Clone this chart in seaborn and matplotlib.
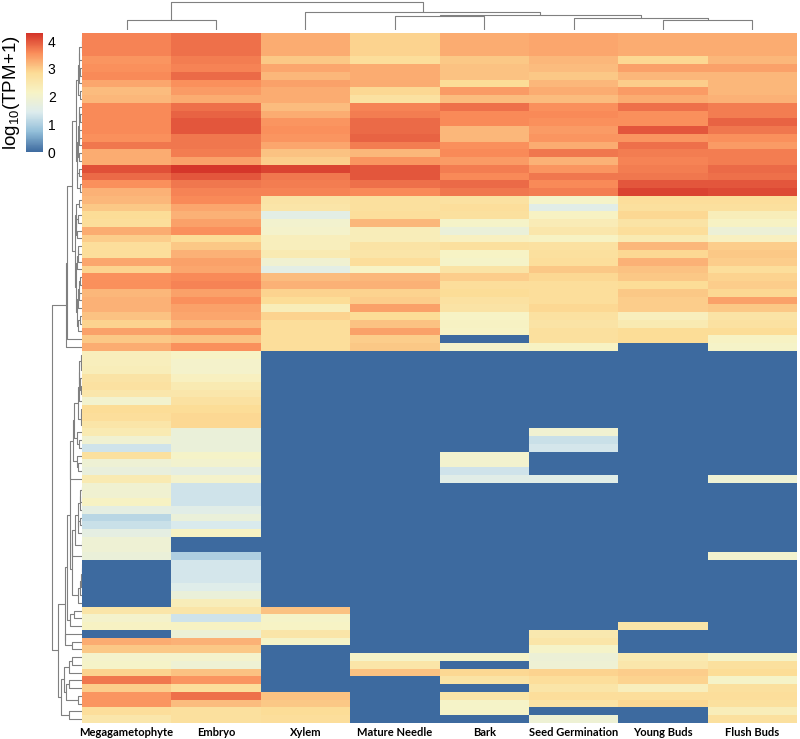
import numpy as np
import pandas as pd
import matplotlib
matplotlib.use("Agg")
import matplotlib.pyplot as plt
import seaborn as sns
from matplotlib.colors import LinearSegmentedColormap

# tissues in the order they appear on the x axis
tissues = ["Megagametophyte", "Embryo", "Xylem", "Mature Needle", "Bark",
           "Seed Germination", "Young Buds", "Flush Buds"]

# log10(TPM+1) per gene (top to bottom)
megagametophyte = [3.65, 3.65, 3.65, 3.5, 3.55, 3.6, 3.35, 3.15, 3.2, 3.6, 3.6, 3.6, 3.6, 3.55, 3.75, 3.3, 3.3, 4.05, 3.85, 3.55, 3.25,
                   3.2, 3.05, 2.85, 2.8, 3.3, 3.0, 2.8, 2.8, 3.35, 2.95, 3.55, 3.55, 3.2, 3.25, 3.25, 3.1, 2.95, 3.4, 3.05, 3.3,
                   2.3, 2.3, 2.35, 2.65, 2.7, 2.55, 2.0, 2.85, 2.8, 2.6, 2.45, 1.95, 1.3, 2.75, 1.9, 1.75, 2.45, 1.95, 1.95, 2.2, 1.65, 1.1, 1.25,
                   1.65, 1.9, 1.9, 1.8, 0, 0, 0, 0, 0, 0, 2.6, 2.05, 2.2, 0, 3.3, 3.05, 2.05, 2.1, 2.95, 3.75, 3.0, 3.5, 3.5, 2.8, 2.55]
embryo = [3.8, 3.8, 3.8, 3.7, 3.65, 3.85, 3.55, 3.45, 3.3, 3.8, 3.9, 4.0, 4.0, 3.75, 3.75, 3.7, 3.4, 4.25, 4.0, 3.75, 3.65,
          3.6, 3.35, 3.25, 3.4, 3.55, 2.85, 3.05, 3.25, 3.4, 3.35, 3.6, 3.65, 3.4, 3.55, 3.4, 3.35, 3.2, 3.5, 3.1, 3.55,
          2.15, 2.05, 2.05, 2.25, 2.45, 2.55, 2.7, 2.85, 2.9, 2.9, 1.8, 1.8, 1.8, 2.1, 2.0, 1.65, 2.05, 1.3, 1.3, 1.3, 1.55, 1.8, 1.4,
          2.2, 0, 0, 1.0, 1.35, 1.35, 1.35, 1.5, 1.8, 2.35, 2.6, 1.3, 2.2, 1.85, 3.25, 3.05, 2.05, 1.9, 3.1, 3.5, 2.8, 3.8, 3.15, 2.75, 2.75]
xylem = [3.3, 3.3, 3.3, 3.05, 3.35, 3.2, 3.4, 3.3, 3.3, 3.15, 3.3, 3.5, 3.55, 3.5, 3.35, 3.1, 3.0, 4.15, 3.75, 3.7, 3.65,
         2.65, 2.6, 1.6, 2.0, 2.05, 2.3, 2.3, 2.45, 1.95, 1.6, 3.15, 3.25, 2.95, 2.85, 2.35, 2.95, 2.8, 2.8, 2.8, 2.8,
         0, 0, 0, 0, 0, 0, 0, 0, 0, 0, 0, 0, 0, 0, 0, 0, 0, 0, 0, 0, 0, 0, 0,
         0, 0, 0, 0, 0, 0, 0, 0, 0, 0, 3.1, 2.1, 2.15, 2.6, 2.1, 0, 0, 0, 0, 0, 0, 3.1, 3.05, 2.85, 2.8]
mature_needle = [2.95, 2.95, 2.95, 2.8, 3.3, 3.3, 3.3, 2.9, 2.7, 3.65, 3.7, 3.85, 3.85, 3.9, 3.7, 3.2, 3.5, 4.0, 4.0, 3.8, 3.6,
                 2.75, 2.75, 2.8, 3.2, 2.35, 2.35, 2.65, 2.6, 2.8, 2.15, 3.2, 3.25, 2.95, 3.0, 3.4, 2.85, 3.1, 3.4, 3.0, 3.05,
                 0, 0, 0, 0, 0, 0, 0, 0, 0, 0, 0, 0, 0, 0, 0, 0, 0, 0, 0, 0, 0, 0, 0,
                 0, 0, 0, 0, 0, 0, 0, 0, 0, 0, 0, 0, 0, 0, 0, 0, 2.1, 2.6, 3.1, 0, 0, 0, 0, 0, 0]
bark = [3.3, 3.3, 3.3, 3.05, 3.1, 3.1, 2.85, 3.45, 3.15, 3.8, 3.6, 3.6, 3.2, 3.2, 3.55, 3.6, 3.45, 3.7, 3.6, 3.85, 3.75,
        2.7, 2.8, 2.75, 2.1, 1.8, 2.25, 2.75, 2.15, 2.1, 2.65, 3.0, 2.8, 2.85, 2.7, 2.65, 2.15, 2.2, 2.15, 0, 2.05,
        0, 0, 0, 0, 0, 0, 0, 0, 0, 0, 0, 0, 0, 2.0, 2.0, 1.3, 1.55, 0, 0, 0, 0, 0, 0,
        0, 0, 0, 0, 0, 0, 0, 0, 0, 0, 0, 0, 0, 0, 0, 0, 2.1, 0, 2.9, 2.65, 0, 2.6, 2.1, 2.1, 0]
seed_germination = [3.35, 3.35, 3.35, 3.2, 3.15, 3.05, 3.2, 3.3, 3.15, 3.55, 3.6, 3.55, 3.45, 3.5, 3.3, 3.75, 3.25, 3.5, 3.75, 3.6, 3.7,
                    2.1, 1.55, 2.2, 2.4, 2.55, 2.2, 2.7, 2.75, 2.8, 3.05, 2.9, 2.8, 2.8, 2.8, 2.9, 2.7, 2.65, 2.75, 2.75, 2.2,
                    0, 0, 0, 0, 0, 0, 0, 0, 0, 0, 1.95, 1.25, 1.35, 0, 0, 0, 1.55, 0, 0, 0, 0, 0, 0,
                    0, 0, 0, 0, 0, 0, 0, 0, 0, 0, 0, 0, 0, 2.5, 2.6, 2.1, 1.85, 1.9, 2.95, 2.8, 2.6, 2.8, 2.65, 0, 1.9]
young_buds = [3.3, 3.3, 3.3, 2.9, 3.4, 3.2, 3.0, 3.45, 3.3, 3.8, 3.55, 3.55, 4.0, 3.5, 3.8, 3.7, 3.65, 3.7, 3.75, 4.0, 4.15,
              2.8, 2.75, 2.9, 2.65, 2.8, 2.45, 3.2, 2.9, 3.25, 3.1, 3.05, 2.85, 3.05, 3.0, 3.0, 2.3, 2.45, 2.85, 2.85, 0,
              0, 0, 0, 0, 0, 0, 0, 0, 0, 0, 0, 0, 0, 0, 0, 0, 0, 0, 0, 0, 0, 0, 0,
              0, 0, 0, 0, 0, 0, 0, 0, 0, 0, 0, 0, 2.6, 0, 0, 0, 2.45, 2.55, 3.0, 2.95, 2.3, 2.8, 2.9, 0, 0]
flush_buds = [3.3, 3.3, 3.3, 3.2, 3.4, 3.2, 3.2, 3.2, 3.25, 3.7, 3.7, 3.9, 3.75, 3.55, 3.45, 3.7, 3.7, 3.85, 3.8, 4.0, 4.1,
              2.8, 2.75, 2.35, 2.2, 1.85, 2.25, 3.0, 3.05, 3.0, 2.8, 2.95, 3.0, 2.9, 3.4, 3.05, 2.65, 2.7, 2.85, 2.2, 2.1,
              0, 0, 0, 0, 0, 0, 0, 0, 0, 0, 0, 0, 0, 0, 0, 0, 1.9, 0, 0, 0, 0, 0, 0,
              0, 0, 0, 2.0, 0, 0, 0, 0, 0, 0, 0, 0, 0, 0, 0, 0, 2.1, 2.75, 2.85, 2.1, 2.75, 2.8, 2.75, 2.35, 2.75]

# column tree: child a, child b, height, size
col_tree = [[0, 1, 0.36, 2],
            [6, 7, 0.36, 2],
            [5, 9, 0.43, 3],
            [3, 4, 0.49, 2],
            [11, 10, 0.51, 5],
            [2, 12, 0.64, 6],
            [8, 13, 1.00, 8]]

df = pd.DataFrame({
    "Megagametophyte": megagametophyte,
    "Embryo": embryo,
    "Xylem": xylem,
    "Mature Needle": mature_needle,
    "Bark": bark,
    "Seed Germination": seed_germination,
    "Young Buds": young_buds,
    "Flush Buds": flush_buds,
})[tissues]


def ordered_linkage(values):
    # average linkage that only joins neighbouring groups, so the row order is kept
    groups = [[i] for i in range(len(values))]
    ids = list(range(len(values)))
    next_id = len(values)
    Z = []
    while len(groups) > 1:
        dists = []
        for k in range(len(groups) - 1):
            a = values[groups[k]]
            b = values[groups[k + 1]]
            dists.append(np.sqrt(((a[:, None, :] - b[None, :, :]) ** 2).sum(-1)).mean())
        k = int(np.argmin(dists))
        Z.append([ids[k], ids[k + 1], dists[k], len(groups[k]) + len(groups[k + 1])])
        groups[k] = groups[k] + groups[k + 1]
        groups.pop(k + 1)
        ids[k] = next_id
        ids.pop(k + 1)
        next_id += 1
    Z = np.array(Z, dtype=float)
    Z[:, 2] = np.maximum.accumulate(Z[:, 2])
    return Z


row_link = ordered_linkage(df.values)
col_link = np.array(col_tree, dtype=float)

cmap = LinearSegmentedColormap.from_list(
    "tpm", ["#3D6A9F", "#91BDD8", "#DDECEE", "#F7F3C6", "#FCDC96", "#FA8D5A", "#D33228"])

g = sns.clustermap(df, row_linkage=row_link, col_linkage=col_link,
                   cmap=cmap, vmin=0, vmax=4.3, figsize=(8, 7.39),
                   yticklabels=False, xticklabels=True,
                   tree_kws={"colors": "#808080", "linewidths": 0.8},
                   cbar_kws={"ticks": [0, 1, 2, 3, 4]})

W, H = 800, 739
g.ax_heatmap.set_position([82 / W, 1 - 723 / H, 715 / W, 690 / H])
g.ax_col_dendrogram.set_position([82 / W, 1 - 29.5 / H, 715 / W, 29 / H])
g.ax_row_dendrogram.set_position([50 / W, 1 - 723 / H, 31.5 / W, 690 / H])
g.ax_cbar.set_position([26 / W, 1 - 152 / H, 17 / W, 119 / H])

g.ax_heatmap.set_xlabel("")
g.ax_heatmap.set_ylabel("")
g.ax_heatmap.tick_params(axis="x", length=0, pad=3)
for lab in g.ax_heatmap.get_xticklabels():
    lab.set_rotation(0)
    lab.set_fontfamily("Lato")
    lab.set_fontweight("bold")
    lab.set_fontsize(8)

g.ax_cbar.tick_params(length=0, labelsize=10, pad=3.5)
for lab in g.ax_cbar.get_yticklabels():
    lab.set_fontfamily("Liberation Sans")
g.ax_cbar.yaxis.set_label_position("left")
g.ax_cbar.set_ylabel(r"$\mathregular{log_{10}}$(TPM+1)", fontsize=13.5,
                     fontfamily="Liberation Sans", labelpad=3)

g.figure.savefig("out.png", dpi=100)
